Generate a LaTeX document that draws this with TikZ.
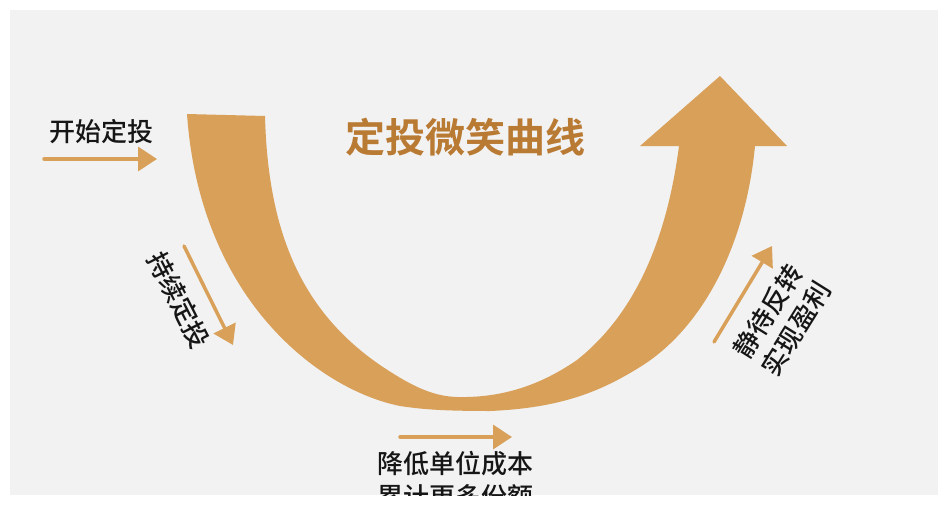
\documentclass[tikz,border=0pt]{standalone}
\usepackage{fontspec}
\newfontfamily\cjk[UprightFont={* Medium},BoldFont={* Bold}]{Noto Sans CJK SC}
\usetikzlibrary{arrows.meta}
\definecolor{smile}{HTML}{D9A05A}
\definecolor{smiletitle}{HTML}{B97A33}
\definecolor{paper}{HTML}{F2F2F2}
\definecolor{ink}{HTML}{161616}
\begin{document}
\begin{tikzpicture}[
    x=1pt, y=-1pt,
    line cap=round,
    guide/.style={draw=smile, line width=3.5pt, -{Triangle[length=19pt,width=24pt]}},
    tag/.style={font=\cjk\fontsize{26}{33}\selectfont, text=ink, align=center, inner sep=0pt},
    headline/.style={font=\cjk\bfseries\fontsize{40}{40}\selectfont, text=smiletitle, inner sep=0pt}
]
  \useasboundingbox (0,0) rectangle (948,506);
  \fill[white] (0,0) rectangle (948,506);
  \fill[paper] (10,10) rectangle (938,495);
  \fill[smile]
    (187,114) -- (265,116)
    .. controls (268,230) and (300,310) .. (380,365)
    .. controls (420,392) and (440,398) .. (467,397)
    .. controls (510,396) and (545,382) .. (577,360)
    .. controls (640,310) and (668,230) .. (679,146)
    -- (640,146) -- (720,76) -- (787,146) -- (755,146)
    .. controls (745,250) and (700,330) .. (640,367)
    .. controls (600,392) and (560,408) .. (490,411)
    .. controls (440,411) and (420,409) .. (400,406)
    .. controls (320,390) and (200,300) .. (187,114)
    -- cycle
  ;
  \node[headline] (title) at (465,137) {定投微笑曲线};
  \node[tag] (start) at (101,132) {开始定投};
  \coordinate (start a) at (44,159);
  \coordinate (start b) at (157,159);
  \draw[guide] (start a) -- (start b);
  \node[tag, rotate=-63] (keep) at (179,300) {持续定投};
  \coordinate (keep a) at (184,246);
  \coordinate (keep b) at (233,345);
  \draw[guide] (keep a) -- (keep b);
  \coordinate (cost a) at (400,437);
  \coordinate (cost b) at (512,437);
  \draw[guide] (cost a) -- (cost b);
  \begin{scope}
    \clip (10,10) rectangle (938,495);
    \node[tag] (cost) at (455,480) {降低单位成本\\累计更多份额};
  \end{scope}
  \coordinate (wait a) at (714,342);
  \coordinate (wait b) at (772,246);
  \draw[guide] (wait a) -- (wait b);
  \node[tag, rotate=58] (wait) at (782,320) {静待反转\\实现盈利};
\end{tikzpicture}
\end{document}
